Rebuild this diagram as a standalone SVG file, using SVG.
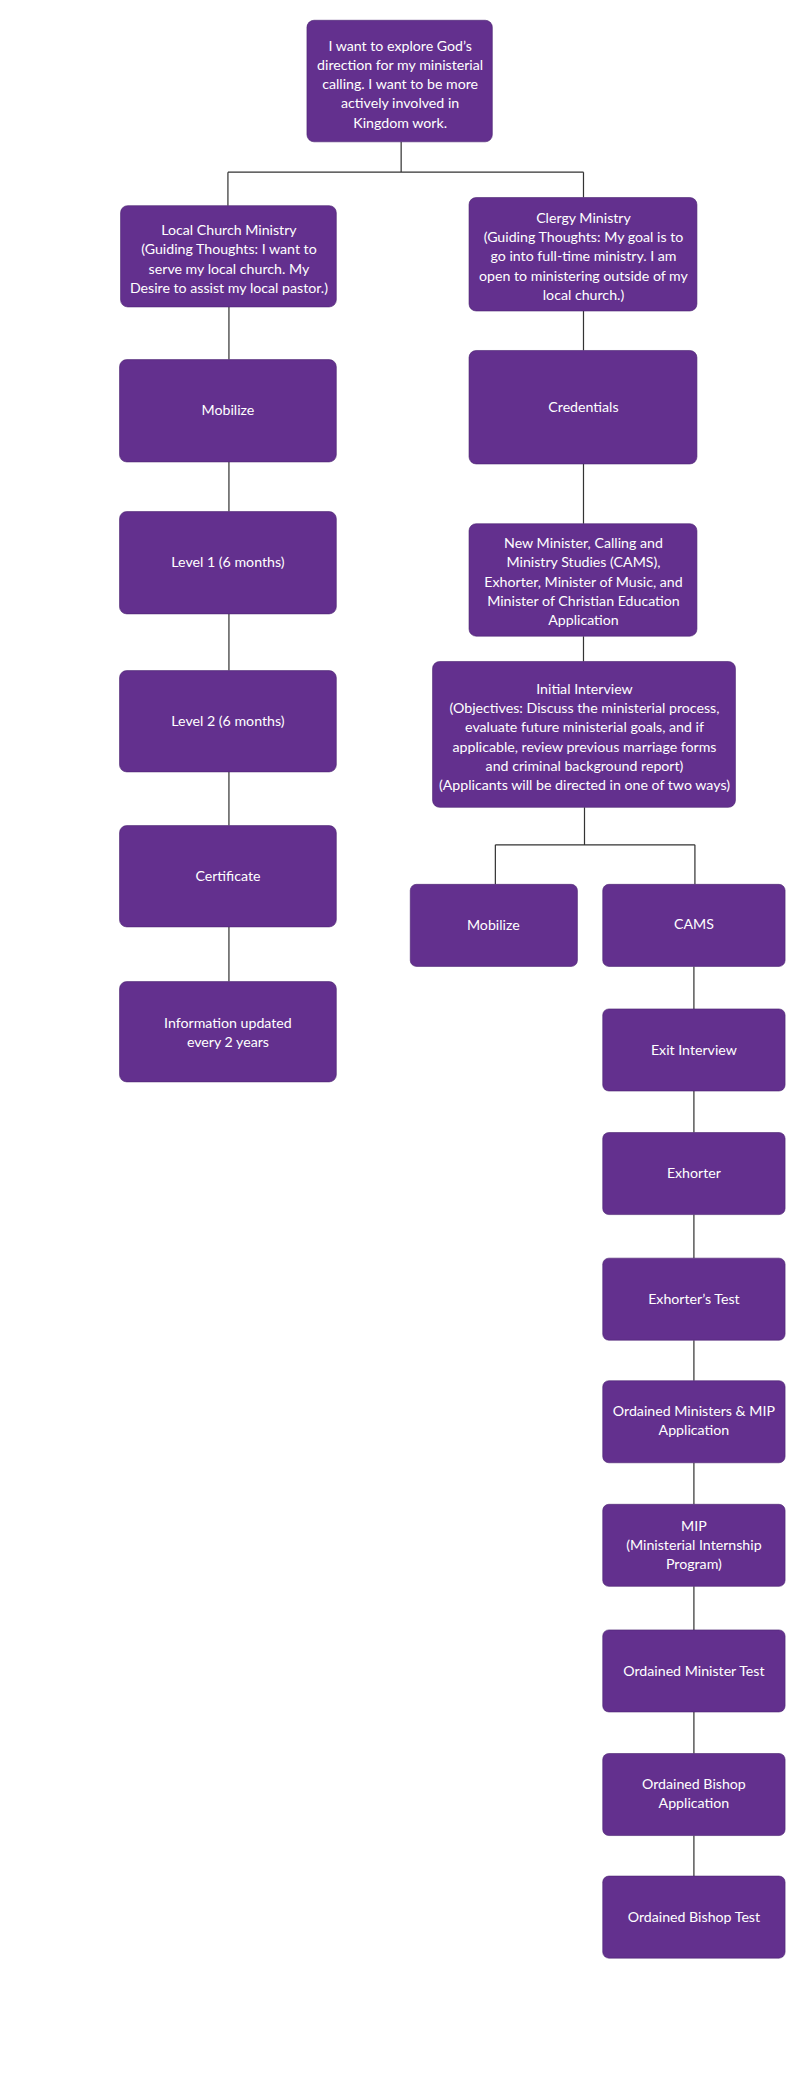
<svg xmlns="http://www.w3.org/2000/svg" width="800" height="2082" viewBox="0 0 800 2082">
<style>
.n rect{fill:#63308e;stroke:#4a2270;stroke-width:0.6}
.n text{fill:#fff;font-family:Lato,"Liberation Sans",sans-serif;font-size:14px;text-anchor:middle}
.c path{fill:none;stroke:#333;stroke-width:1.2}
</style>
<rect width="800" height="2082" fill="#fff"/>
<g transform="scale(1.013)">
<g class="c">
<path d="M396 140V170M225 170H576M225 170V203M576 170V195"/>
<path d="M226 303V355M226 456V505M226 606V662M226 762V815M226 915V969"/>
<path d="M576 307V346M576 458V517M576 628V653M577 797V834M489 834H686M489 834V873M686 834V873"/>
<path d="M685 954V996M685 1077V1118M685 1199V1242M685 1323V1363M685 1444V1485M685 1566V1609M685 1690V1731M685 1812V1852"/>
</g>
<g class="n" id="top"><rect x="303" y="20" width="183" height="120" rx="7"/><text x="395" y="50">I want to explore God’s</text><text x="395" y="69">direction for my ministerial</text><text x="395" y="88">calling. I want to be more</text><text x="395" y="107">actively involved in</text><text x="395" y="126">Kingdom work.</text></g>
<g class="n" id="local"><rect x="119" y="203" width="213" height="100" rx="7"/><text x="226" y="232">Local Church Ministry</text><text x="226" y="251">(Guiding Thoughts: I want to</text><text x="226" y="270">serve my local church. My</text><text x="226" y="289">Desire to assist my local pastor.)</text></g>
<g class="n" id="clergy"><rect x="463" y="195" width="225" height="112" rx="7"/><text x="576" y="220">Clergy Ministry</text><text x="576" y="239">(Guiding Thoughts: My goal is to</text><text x="576" y="258">go into full-time ministry. I am</text><text x="576" y="277">open to ministering outside of my</text><text x="576" y="296">local church.)</text></g>
<g class="n" id="mob1"><rect x="118" y="355" width="214" height="101" rx="7"/><text x="225" y="410">Mobilize</text></g>
<g class="n" id="lv1"><rect x="118" y="505" width="214" height="101" rx="7"/><text x="225" y="560">Level 1 (6 months)</text></g>
<g class="n" id="lv2"><rect x="118" y="662" width="214" height="100" rx="7"/><text x="225" y="717">Level 2 (6 months)</text></g>
<g class="n" id="cert"><rect x="118" y="815" width="214" height="100" rx="7"/><text x="225" y="870">Certificate</text></g>
<g class="n" id="info"><rect x="118" y="969" width="214" height="99" rx="7"/><text x="225" y="1015">Information updated</text><text x="225" y="1034">every 2 years</text></g>
<g class="n" id="cred"><rect x="463" y="346" width="225" height="112" rx="7"/><text x="576" y="407">Credentials</text></g>
<g class="n" id="newmin"><rect x="463" y="517" width="225" height="111" rx="7"/><text x="576" y="541">New Minister, Calling and</text><text x="576" y="560">Ministry Studies (CAMS),</text><text x="576" y="579">Exhorter, Minister of Music, and</text><text x="576" y="598">Minister of Christian Education</text><text x="576" y="617">Application</text></g>
<g class="n" id="init"><rect x="427" y="653" width="299" height="144" rx="7"/><text x="577" y="685">Initial Interview</text><text x="577" y="704">(Objectives: Discuss the ministerial process,</text><text x="577" y="723">evaluate future ministerial goals, and if</text><text x="577" y="742">applicable, review previous marriage forms</text><text x="577" y="761">and criminal background report)</text><text x="577" y="780">(Applicants will be directed in one of two ways)</text></g>
<g class="n" id="mob2"><rect x="405" y="873" width="165" height="81" rx="6"/><text x="487" y="918">Mobilize</text></g>
<g class="n" id="cams"><rect x="595" y="873" width="180" height="81" rx="6"/><text x="685" y="917">CAMS</text></g>
<g class="n" id="exit"><rect x="595" y="996" width="180" height="81" rx="6"/><text x="685" y="1041">Exit Interview</text></g>
<g class="n" id="exh"><rect x="595" y="1118" width="180" height="81" rx="6"/><text x="685" y="1163">Exhorter</text></g>
<g class="n" id="exht"><rect x="595" y="1242" width="180" height="81" rx="6"/><text x="685" y="1287">Exhorter’s Test</text></g>
<g class="n" id="ord"><rect x="595" y="1363" width="180" height="81" rx="6"/><text x="685" y="1398">Ordained Ministers &amp; MIP</text><text x="685" y="1417">Application</text></g>
<g class="n" id="mip"><rect x="595" y="1485" width="180" height="81" rx="6"/><text x="685" y="1511">MIP</text><text x="685" y="1530">(Ministerial Internship</text><text x="685" y="1549">Program)</text></g>
<g class="n" id="ordt"><rect x="595" y="1609" width="180" height="81" rx="6"/><text x="685" y="1654">Ordained Minister Test</text></g>
<g class="n" id="bish"><rect x="595" y="1731" width="180" height="81" rx="6"/><text x="685" y="1766">Ordained Bishop</text><text x="685" y="1785">Application</text></g>
<g class="n" id="bisht"><rect x="595" y="1852" width="180" height="81" rx="6"/><text x="685" y="1897">Ordained Bishop Test</text></g>
</g>
</svg>
